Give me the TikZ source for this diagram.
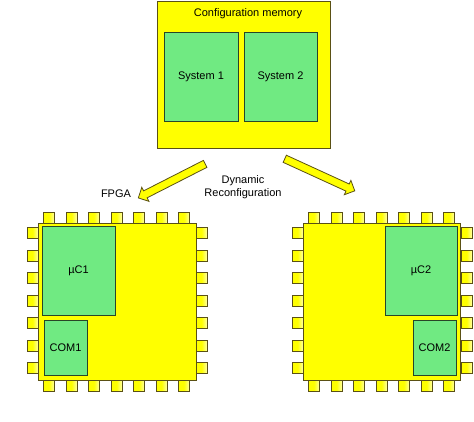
\documentclass[tikz,border=0pt]{standalone}
\usepackage{fontspec}
\setmainfont{Liberation Sans}
\usepackage{tikz}
\usetikzlibrary{shapes.arrows}

\definecolor{chipyellow}{RGB}{255,255,0}
\definecolor{chipedge}{RGB}{90,80,20}
\definecolor{blockgreen}{RGB}{112,234,130}
\definecolor{greenedge}{RGB}{40,70,40}

\tikzset{
    box/.style={draw=chipedge, fill=chipyellow, line width=0.9pt, inner sep=0pt},
    part/.style={draw=greenedge, fill=blockgreen, line width=0.8pt, inner sep=0pt},
    pin/.style={draw=chipedge, line width=0.8pt, inner sep=0pt, minimum width=11pt, minimum height=11pt,
        left color=chipyellow, right color=chipyellow!35, middle color=chipyellow},
    blockarrow/.style={single arrow, draw=chipedge, fill=chipyellow, line width=0.8pt,
        inner xsep=0pt, inner ysep=3.5pt, single arrow head extend=4pt, minimum width=1pt},
    lbl/.style={font=\fontsize{11}{13}\selectfont, inner sep=0pt}
}

\begin{document}
\begin{tikzpicture}[x=1pt, y=-1pt]
        \useasboundingbox (0,0) rectangle (474,421);

        \node[box, minimum width=173pt, minimum height=147pt] (mem) at (243.5,74.5) {};
        \node[lbl] (memtitle) at (248,14) {Configuration memory};
        \node[part, minimum width=74pt, minimum height=89pt, lbl] (sys1) at (201,76.5) {System 1};
        \node[part, minimum width=73pt, minimum height=89pt, lbl] (sys2) at (280.5,76.5) {System 2};

        \node[blockarrow, minimum height=75pt, rotate=207] (toleft) at (173.5,180) {};
        \node[blockarrow, minimum height=77pt, rotate=-24.6] (toright) at (318,174) {};

        \node[lbl] (fpga) at (116,194) {FPGA};
        \node[lbl] (dyn) at (243,181) {Dynamic};
        \node[lbl] (reconf) at (243,194) {Reconfiguration};

        \foreach \i in {0,...,6} {
            \node[pin] (lt\i) at (49+22.5*\i,217.5) {};
            \node[pin] (lb\i) at (49+22.5*\i,386) {};
            \node[pin] (ll\i) at (32.5,233+22.5*\i) {};
            \node[pin] (lr\i) at (201.5,233+22.5*\i) {};
            \node[pin] (rt\i) at (314+22.5*\i,217.5) {};
            \node[pin] (rb\i) at (314+22.5*\i,386) {};
            \node[pin] (rl\i) at (297.5,233+22.5*\i) {};
            \node[pin] (rr\i) at (466.5,233+22.5*\i) {};
        }

        \node[box, minimum width=158pt, minimum height=157pt] (fpga1) at (117,301.5) {};
        \node[part, minimum width=73pt, minimum height=89pt, lbl] (uc1) at (78.5,270.5) {µC1};
        \node[part, minimum width=43pt, minimum height=55pt, lbl] (com1) at (65.5,347.5) {COM1};

        \node[box, minimum width=157pt, minimum height=157pt] (fpga2) at (381.5,301.5) {};
        \node[part, minimum width=72pt, minimum height=89pt, lbl] (uc2) at (421,270.5) {µC2};
        \node[part, minimum width=43pt, minimum height=55pt, lbl] (com2) at (434.5,347.5) {COM2};
    \end{tikzpicture}
\end{document}
